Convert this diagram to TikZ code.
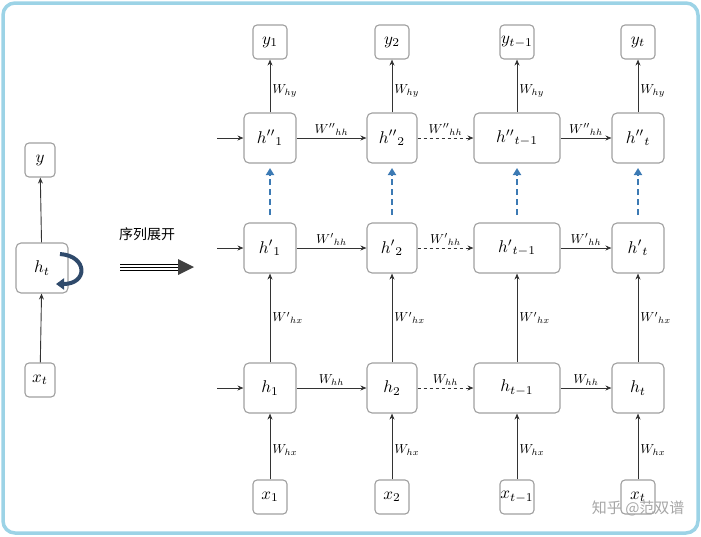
\documentclass[tikz,border=0pt]{standalone}
\usepackage{graphicx}
\usepackage{fontspec}
\newfontfamily\cjk{Noto Sans CJK SC}
\usetikzlibrary{arrows.meta}
\definecolor{frame}{HTML}{9CD3E6}
\definecolor{bdash}{HTML}{3C7AB4}
\definecolor{loopc}{HTML}{2F4A6B}
\newcommand{\BXmath}[1]{\scalebox{1.7}{$#1$}}
\newcommand{\LBmath}[1]{\scalebox{1.3}{$#1$}}
\begin{document}
\begin{tikzpicture}[x=1pt,y=-1pt,
  box/.style={draw=gray!75,line width=1.1pt,rounded corners=5pt,minimum width=#1,minimum height=50pt,inner sep=0pt},
  box/.default=52pt,
  sbox/.style={draw=gray!75,line width=1.1pt,rounded corners=4pt,minimum width=#1,minimum height=34pt,inner sep=0pt},
  sbox/.default=32pt,
  con/.style={-{Stealth[length=6pt,width=5pt]},line width=0.9pt,draw=black!80},
  dcon/.style={con,dashed},
  bcon/.style={-{Triangle[length=7pt,width=8pt]},line width=2pt,draw=bdash,dash pattern=on 6pt off 4pt},
  lab/.style={inner sep=2pt}]
\useasboundingbox (0,0) rectangle (701,536);
\draw[draw=frame,line width=3.5pt,rounded corners=12pt] (3,3) rectangle (698,533);
% left
\node[sbox=30pt] (ly) at (40,160) {\BXmath{y}};
\node[box=52pt] (lh) at (42,268) {\BXmath{h_t}};
\node[sbox=30pt] (lx) at (40,380) {\BXmath{x_t}};
\draw[con] (lx) -- (lh);
\draw[con] (lh) -- (ly);
\draw[-{Triangle[length=8pt,width=11pt]},line width=4pt,draw=loopc] (60,254) .. controls (88,256) and (88,284) .. (56,284);
\node[font=\cjk\fontsize{14}{16}\selectfont] (txt) at (147,234) {序列展开};
\coordinate (da) at (120,267); \coordinate (db) at (182,267);
\draw[line width=1pt] ([yshift=-3pt]da) -- ([yshift=-3pt]db);
\draw[line width=1pt] (da) -- (db);
\draw[line width=1pt] ([yshift=3pt]da) -- ([yshift=3pt]db);
\fill[black!75] (178,259) -- (194,267) -- (178,275) -- cycle;
% columns
\foreach \n/\x/\w/\s in {1/270/52pt/1,2/392/50pt/2,3/517/86pt/{t-1},4/638/52pt/t}{
  \node[sbox=34pt] (y\n) at (\x,42) {\BXmath{y_{\s}}};
  \node[box=\w] (hh\n) at (\x,138) {\BXmath{h''{}_{\s}}};
  \node[box=\w] (hp\n) at (\x,248) {\BXmath{h'{}_{\s}}};
  \node[box=\w] (h\n) at (\x,388) {\BXmath{h_{\s}}};
  \node[sbox=34pt] (x\n) at (\x,497) {\BXmath{x_{\s}}};
  \draw[con] (x\n) -- node[lab,right,pos=0.45] {\LBmath{W_{hx}}} (h\n);
  \draw[con] (h\n) -- node[lab,right] {\LBmath{W'{}_{hx}}} (hp\n);
  \draw[con] (hh\n) -- node[lab,right,pos=0.4] {\LBmath{W_{hy}}} (y\n);
  \coordinate (ba\n) at (\x,215); \coordinate (bb\n) at (\x,168);
  \draw[bcon] (ba\n) -- (bb\n);
}
\coordinate (inhh) at (217,138); \coordinate (inhp) at (217,248); \coordinate (inh) at (217,388);
\draw[con] (inhh) -- (hh1); \draw[con] (inhp) -- (hp1); \draw[con] (inh) -- (h1);
\foreach \a/\b/\st in {1/2/con,2/3/dcon,3/4/con}{
  \draw[\st] (hh\a) -- node[lab,above] {\LBmath{W''{}_{hh}}} (hh\b);
  \draw[\st] (hp\a) -- node[lab,above] {\LBmath{W'{}_{hh}}} (hp\b);
  \draw[\st] (h\a) -- node[lab,above] {\LBmath{W_{hh}}} (h\b);
}
\node[font=\cjk\fontsize{15}{17}\selectfont,text=gray!70,anchor=east] (wm) at (688,508) {知乎 @范双谱};
\end{tikzpicture}
\end{document}
